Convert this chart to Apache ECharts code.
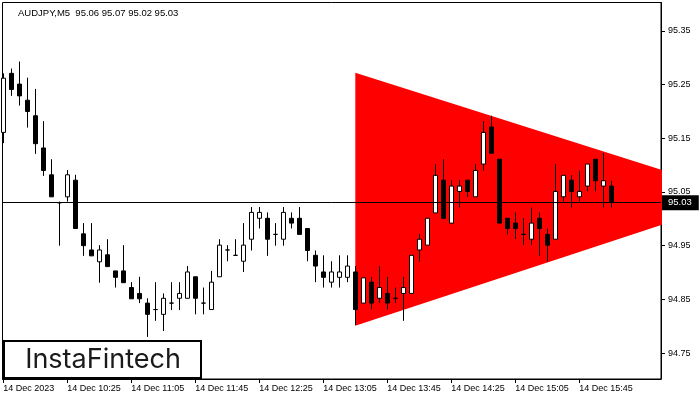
<!DOCTYPE html>
<html><head><meta charset="utf-8">
<script src="https://cdn.jsdelivr.net/npm/echarts@6/dist/echarts.min.js"></script>
<style>html,body{margin:0;padding:0;background:#fff}#c{width:700px;height:400px}</style>
</head><body><div id="c"></div>
<script>
// M5 bar times, 14 Dec 2023
const times = ['09:45','09:50','09:55','10:00','10:05','10:10','10:15','10:20','10:25','10:30',
 '10:35','10:40','10:45','10:50','10:55','11:00','11:05','11:10','11:15','11:20',
 '11:25','11:30','11:35','11:40','11:45','11:50','11:55','12:00','12:05','12:10',
 '12:15','12:20','12:25','12:30','12:35','12:40','12:45','12:50','12:55','13:00',
 '13:05','13:10','13:15','13:20','13:25','13:30','13:35','13:40','13:45','13:50',
 '13:55','14:00','14:05','14:10','14:15','14:20','14:25','14:30','14:35','14:40',
 '14:45','14:50','14:55','15:00','15:05','15:10','15:15','15:20','15:25','15:30',
 '15:35','15:40','15:45','15:50','15:55','16:00','16:05'];
const opens = [95.161,95.271,95.251,95.221,95.192,95.132,95.082,95.030,95.041,95.072,
 94.972,94.942,94.920,94.933,94.903,94.903,94.872,94.861,94.843,94.831,
 94.822,94.843,94.852,94.852,94.892,94.843,94.831,94.892,94.942,94.932,
 94.921,94.962,95.001,95.001,94.971,94.962,95.001,95.001,94.982,94.932,
 94.901,94.882,94.891,94.891,94.901,94.843,94.882,94.852,94.861,94.852,
 94.861,94.861,94.942,94.951,95.011,95.072,94.992,95.051,95.072,95.041,
 95.102,95.171,95.111,95.001,94.992,94.971,94.962,95.001,94.971,94.962,
 95.041,95.072,95.041,95.061,95.111,95.061,95.061];
const highs = [95.271,95.280,95.293,95.263,95.242,95.182,95.111,95.032,95.091,95.082,
 94.992,94.992,94.951,94.962,94.903,94.951,94.882,94.892,94.852,94.882,
 94.861,94.882,94.882,94.912,94.892,94.872,94.903,94.962,94.951,94.962,
 94.992,95.022,95.022,95.012,94.992,95.022,95.012,95.022,94.982,94.941,
 94.932,94.921,94.932,94.932,94.912,94.890,94.892,94.912,94.892,94.872,
 94.892,94.932,94.972,95.001,95.102,95.111,95.072,95.072,95.072,95.102,
 95.182,95.192,95.111,95.001,95.012,95.001,95.021,95.012,94.982,95.102,
 95.081,95.081,95.090,95.102,95.111,95.123,95.071];
const lows = [95.141,95.229,95.211,95.170,95.121,95.080,95.041,94.950,95.032,94.982,
 94.931,94.931,94.881,94.911,94.872,94.881,94.851,94.843,94.780,94.810,
 94.791,94.830,94.830,94.852,94.822,94.822,94.831,94.892,94.921,94.932,
 94.901,94.941,94.982,94.931,94.950,94.950,94.982,94.971,94.921,94.882,
 94.872,94.872,94.872,94.882,94.802,94.843,94.831,94.843,94.831,94.843,
 94.810,94.861,94.920,94.951,95.011,95.001,94.992,95.021,95.041,95.041,
 95.090,95.122,94.992,94.971,94.962,94.951,94.951,94.931,94.920,94.962,
 95.032,95.021,95.032,95.051,95.051,95.021,95.021];
const closes = [95.262,95.241,95.229,95.200,95.140,95.090,95.041,95.030,95.082,94.982,
 94.950,94.931,94.942,94.911,94.891,94.881,94.851,94.851,94.822,94.831,
 94.852,94.843,94.861,94.901,94.852,94.843,94.882,94.951,94.942,94.932,
 94.951,95.012,95.012,94.962,94.971,95.012,94.992,94.971,94.941,94.912,
 94.891,94.901,94.901,94.912,94.831,94.890,94.843,94.872,94.843,94.852,
 94.872,94.932,94.962,95.001,95.081,95.001,95.061,95.061,95.051,95.090,
 95.161,95.122,94.992,94.982,94.982,94.971,94.992,94.982,94.951,95.051,
 95.081,95.051,95.051,95.102,95.071,95.071,95.032];

const xTickIndex = [0,8,16,24,32,40,48,56,64,72];
const xTickLabels = ['14 Dec 2023','14 Dec 10:25','14 Dec 11:05','14 Dec 11:45','14 Dec 12:25',
 '14 Dec 13:05','14 Dec 13:45','14 Dec 14:25','14 Dec 15:05','14 Dec 15:45'];
const yTicks = [94.75,94.85,94.95,95.05,95.15,95.25,95.35];
const lastPrice = 95.03;
// symmetrical triangle pattern (bar index, price)
const triangleBars = [44, 44, 92.9];
const trianglePrices = [95.272, 94.801, 95.041];
const headerText = 'AUDJPY,M5  95.06 95.07 95.02 95.03';
const logoText = 'InstaFintech';

const candleData = times.map((t, i) => [i, opens[i], closes[i], lows[i], highs[i]]);
const FONT = 'Liberation Sans';

const chart = echarts.init(document.getElementById('c'), null, {renderer: 'canvas'});
chart.setOption({
  animation: false,
  backgroundColor: '#fff',
  grid: {left: 2.5, top: 2.5, right: 39, bottom: 21, show: true, borderColor: '#000', borderWidth: 1, backgroundColor: '#fff'},
  xAxis: {
    type: 'value', min: -0.1, max: 82.21,
    axisLine: {show: true, onZero: false, lineStyle: {color: '#000', width: 1}},
    axisTick: {show: true, customValues: xTickIndex, length: 4, lineStyle: {color: '#000'}},
    axisLabel: {customValues: xTickIndex, formatter: v => xTickLabels[xTickIndex.indexOf(v)],
      align: 'left', color: '#000', fontFamily: FONT, fontSize: 9, margin: 5},
    splitLine: {show: false}
  },
  yAxis: {
    type: 'value', position: 'right', min: 94.7016, max: 95.403,
    axisLine: {show: true, onZero: false, lineStyle: {color: '#000', width: 1}},
    axisTick: {show: true, customValues: yTicks, length: 4, lineStyle: {color: '#000'}},
    axisLabel: {customValues: yTicks, formatter: v => v.toFixed(2), color: '#000', fontFamily: FONT, fontSize: 9, margin: 7},
    splitLine: {show: false}
  },
  series: [
    {
      type: 'custom', z: 1, silent: true, clip: true,
      data: [[triangleBars[0], trianglePrices[0]]],
      renderItem: (params, api) => {
        const pts = triangleBars.map((b, k) => api.coord([b, trianglePrices[k]]));
        return {type: 'polygon', shape: {points: pts}, style: {fill: '#ff0000'}};
      }
    },
    {
      type: 'candlestick', z: 2, data: candleData, encode: {x: 0, y: [1, 2, 3, 4]},
      barWidth: 4, clip: false,
      itemStyle: {color: '#ffffff', color0: '#000000', borderColor: '#000000', borderColor0: '#000000',
        borderColorDoji: '#000000', borderWidth: 1},
      markLine: {
        silent: true, symbol: ['none', 'none'], animation: false,
        lineStyle: {color: '#000', width: 1, type: 'solid'},
        label: {show: true, position: 'end', formatter: lastPrice.toFixed(2), color: '#fff', backgroundColor: '#000',
          padding: [3, 7, 2, 6], fontFamily: FONT, fontSize: 9.5, distance: 1},
        emphasis: {disabled: true},
        data: [{yAxis: lastPrice}]
      }
    }
  ],
  graphic: [
    {type: 'text', left: 18, top: 8, z: 100, style: {text: headerText, fill: '#000', font: '9.5px "Liberation Sans"'}},
    {type: 'group', left: 3, top: 340, z: 100, children: [
      {type: 'rect', shape: {x: 1, y: 1, width: 197, height: 37}, style: {fill: '#fff', stroke: '#000', lineWidth: 2}},
      {type: 'text', x: 100, y: 20, style: {text: logoText, fill: '#1a1a1a', font: '400 27px Inter', textAlign: 'center', textVerticalAlign: 'middle'}}
    ]}
  ]
});
</script>
</body></html>
